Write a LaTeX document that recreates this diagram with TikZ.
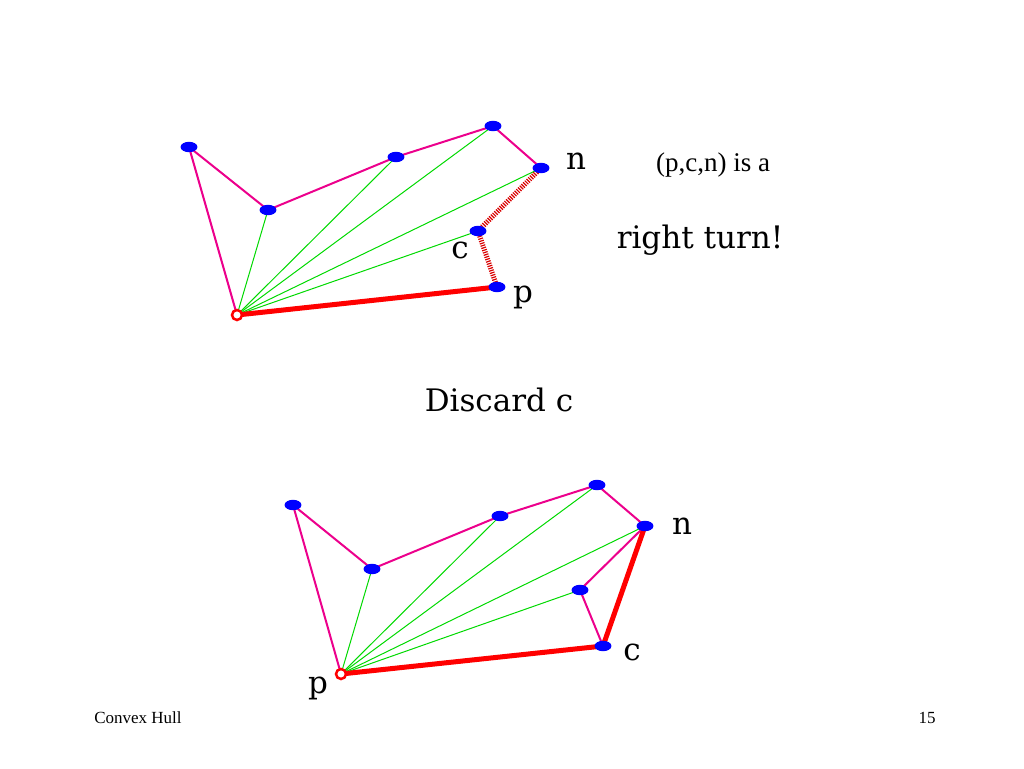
\documentclass[tikz,border=0pt]{standalone}
\usepackage{fontspec}
\setmainfont{Liberation Serif}
\newfontfamily\wideserif{DejaVu Serif}
\begin{document}
\begin{tikzpicture}[x=1pt,y=-1pt,
  pt/.style={circle,fill=blue,inner sep=0pt,minimum width=13pt,minimum height=10pt,xscale=1.3,yscale=0.8},
  org/.style={circle,draw=red,fill=white,line width=2.5pt,inner sep=0pt,minimum size=10pt},
  hull/.style={magenta,line width=2pt},
  fan/.style={green!85!black,line width=1pt},
  cur/.style={red,line width=5pt},
  hat/.style={red!85!black,line width=5pt,dash pattern=on 1.2pt off 1.2pt},
  big/.style={font=\wideserif\fontsize{31}{31}\selectfont},
  mid/.style={font=\fontsize{27}{27}\selectfont}]
\useasboundingbox (0,0) rectangle (1024,768);
% top
\coordinate (tA) at (189,147); \coordinate (tB) at (268,210); \coordinate (tC) at (396,157);
\coordinate (tD) at (493,126); \coordinate (tN) at (541,168); \coordinate (tc) at (478,231);
\coordinate (tP) at (497,287); \coordinate (tO) at (237,315);
\draw[hull] (tO)--(tA)--(tB)--(tC)--(tD)--(tN);
\foreach \q in {tB,tC,tD,tN,tc} \draw[fan] (tO)--(\q);
\draw[cur] (tO)--(tP);
\draw[hat] (tP)--(tc)--(tN);
\foreach \q in {tA,tB,tC,tD,tN,tc,tP} \node[pt] (n\q) at (\q) {};
\node[org] (otO) at (tO) {};
\node[big] (ln1) at (576,161) {n};
\node[big] (lc1) at (460,250) {c};
\node[big] (lp1) at (523,297) {p};
\node[mid] (t1) at (713,165) {(p,c,n) is a};
\node[big] (t2) at (700,240) {right turn!};
\node[big] (t3) at (499,400) {Discard c};
% bottom
\coordinate (bA) at (293,505); \coordinate (bB) at (372,569); \coordinate (bC) at (500,516);
\coordinate (bD) at (597,485); \coordinate (bN) at (645,526); \coordinate (bc) at (580,590);
\coordinate (bP) at (603,646); \coordinate (bO) at (341,674);
\draw[hull] (bO)--(bA)--(bB)--(bC)--(bD)--(bN)--(bc)--(bP);
\foreach \q in {bB,bC,bD,bN,bc} \draw[fan] (bO)--(\q);
\draw[cur,line join=round] (bO)--(bP)--(bN);
\foreach \q in {bA,bB,bC,bD,bN,bc,bP} \node[pt] (n\q) at (\q) {};
\node[org] (obO) at (bO) {};
\node[big] (ln2) at (682,526) {n};
\node[big] (lc2) at (632,652) {c};
\node[big] (lp2) at (318,688) {p};
\node[font=\fontsize{17}{17}\selectfont] (f1) at (138,718) {Convex Hull};
\node[font=\fontsize{17}{17}\selectfont] (f2) at (927,718) {15};
\end{tikzpicture}
\end{document}
